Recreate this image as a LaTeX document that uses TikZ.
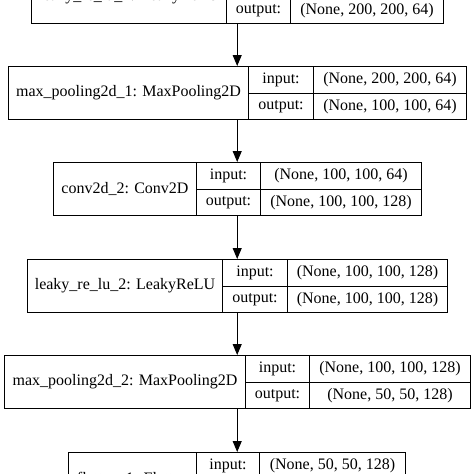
\documentclass[tikz,border=0pt]{standalone}
\usepackage{fontspec}
\setmainfont{Liberation Serif}
\usetikzlibrary{arrows.meta}
\newcommand\layerbox[9]{%
  \node[whole, minimum width={(#6-#3)*1pt}] (#1) at (#3,#2) {};
  \node[cell, minimum width={(#4-#3)*1pt}, minimum height=53pt] (#1l) at (#3,#2) {#7};
  \node[cell, minimum width={(#5-#4)*1pt}] (#1ik) at (#4,#2) {input:};
  \node[cell, minimum width={(#6-#5)*1pt}] (#1iv) at (#5,#2) {#8};
  \node[cell, minimum width={(#5-#4)*1pt}] (#1ok) at (#4,#2+26.5) {output:};
  \node[cell, minimum width={(#6-#5)*1pt}] (#1ov) at (#5,#2+26.5) {#9};
}
\begin{document}
\begin{tikzpicture}[x=1pt,y=-1pt,
  cell/.style={draw, line width=1pt, inner sep=0pt, anchor=north west,
    minimum height=26.5pt, font=\fontsize{16}{18}\selectfont},
  whole/.style={inner sep=0pt, anchor=north west, minimum height=53pt},
  conn/.style={line width=1pt, -{Triangle[length=11pt,width=9pt]}}]
\useasboundingbox (0,0) rectangle (474,474);
\clip (0,0) rectangle (474,474);
\fill[white] (0,0) rectangle (474,474);
\layerbox{a}{-30}{31}{226}{290}{443}{leaky\_re\_lu\_1: LeakyReLU}{(None, 200, 200, 64)}{(None, 200, 200, 64)}
\layerbox{b}{66}{8}{248}{313}{466}{max\_pooling2d\_1: MaxPooling2D}{(None, 200, 200, 64)}{(None, 100, 100, 64)}
\layerbox{c}{162}{53}{196}{260}{421}{conv2d\_2: Conv2D}{(None, 100, 100, 64)}{(None, 100, 100, 128)}
\layerbox{d}{259}{27}{222}{287}{447}{leaky\_re\_lu\_2: LeakyReLU}{(None, 100, 100, 128)}{(None, 100, 100, 128)}
\layerbox{e}{355}{4}{245}{309}{470}{max\_pooling2d\_2: MaxPooling2D}{(None, 100, 100, 128)}{(None, 50, 50, 128)}
\layerbox{f}{452}{68}{196}{259}{405}{flatten\_1: Flatten}{(None, 50, 50, 128)}{(None, 320000)}
\draw[conn] (a.south) -- (a.south |- b.north);
\draw[conn] (b.south) -- (b.south |- c.north);
\draw[conn] (c.south) -- (c.south |- d.north);
\draw[conn] (d.south) -- (d.south |- e.north);
\draw[conn] (e.south) -- (e.south |- f.north);
\end{tikzpicture}
\end{document}
